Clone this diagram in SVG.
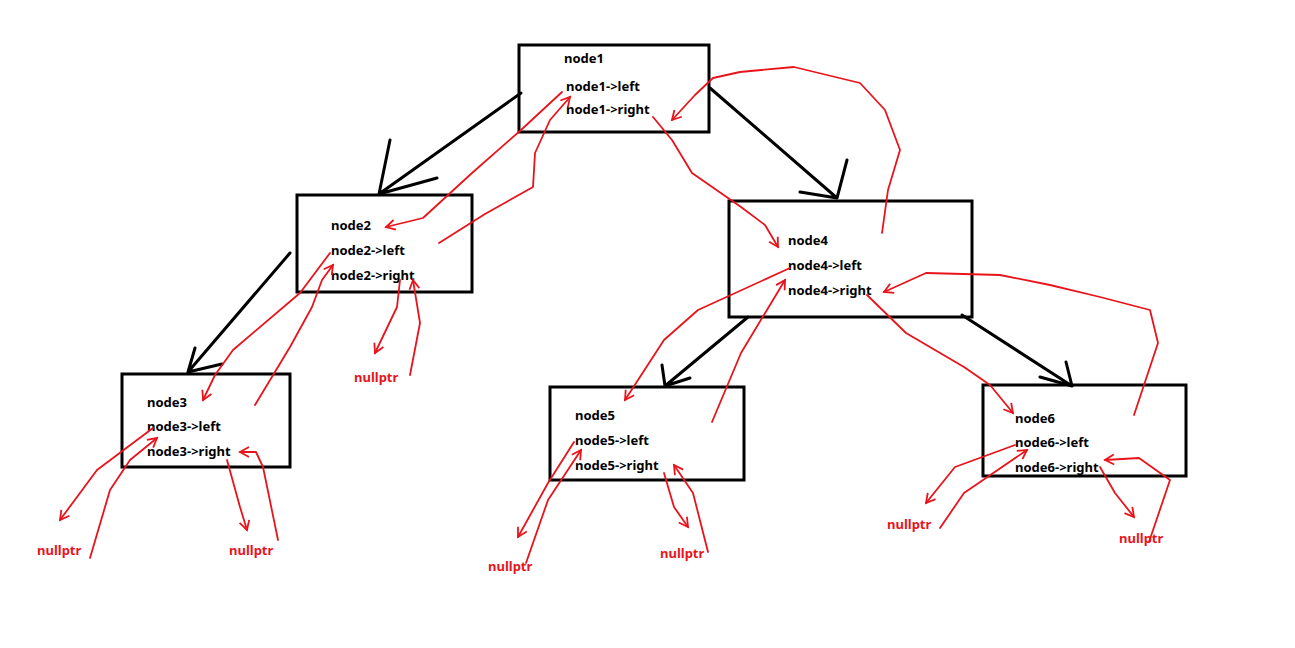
<svg xmlns="http://www.w3.org/2000/svg" width="1295" height="648" viewBox="0 0 1295 648">
<defs>
<style>
.box{fill:none;stroke:#000;stroke-width:3}
.t{font-family:"Noto Sans","Liberation Sans",sans-serif;font-weight:bold;font-size:13px;fill:#000}
.n{font-family:"Noto Sans","Liberation Sans",sans-serif;font-weight:bold;font-size:13px;fill:#e8141c}
.bk{fill:none;stroke:#000;stroke-width:3;stroke-linecap:round}
.rd{fill:none;stroke:#e8141c;stroke-width:1.8;stroke-linejoin:round;stroke-linecap:round;marker-end:url(#h)}
</style>
<marker id="h" viewBox="0 0 12 12" refX="10" refY="6" markerWidth="12" markerHeight="12" markerUnits="userSpaceOnUse" orient="auto">
<path d="M1,1 L10,6 L1,11" fill="none" stroke="#e8141c" stroke-width="1.8"/>
</marker>
</defs>
<rect width="1295" height="648" fill="#fff"/>
<g id="node1"><rect class="box" x="519" y="45" width="190" height="87"/><text class="t" x="564" y="63">node1</text><text class="t" x="566" y="91">node1-&gt;left</text><text class="t" x="566" y="114">node1-&gt;right</text></g>
<g id="node2"><rect class="box" x="297" y="195" width="175" height="97"/><text class="t" x="331" y="230">node2</text><text class="t" x="331" y="255">node2-&gt;left</text><text class="t" x="331" y="280">node2-&gt;right</text></g>
<g id="node3"><rect class="box" x="122" y="374" width="168" height="93"/><text class="t" x="147" y="407">node3</text><text class="t" x="147" y="431">node3-&gt;left</text><text class="t" x="147" y="456">node3-&gt;right</text></g>
<g id="node4"><rect class="box" x="729" y="201" width="243" height="116"/><text class="t" x="788" y="245">node4</text><text class="t" x="788" y="270">node4-&gt;left</text><text class="t" x="788" y="295">node4-&gt;right</text></g>
<g id="node5"><rect class="box" x="550" y="387" width="194" height="93"/><text class="t" x="575" y="420">node5</text><text class="t" x="575" y="445">node5-&gt;left</text><text class="t" x="575" y="470">node5-&gt;right</text></g>
<g id="node6"><rect class="box" x="983" y="385" width="203" height="91"/><text class="t" x="1015" y="423">node6</text><text class="t" x="1015" y="447">node6-&gt;left</text><text class="t" x="1015" y="472">node6-&gt;right</text></g>
<g id="nulls">
<text class="n" x="37" y="555">nullptr</text><text class="n" x="229" y="555">nullptr</text><text class="n" x="354" y="382">nullptr</text><text class="n" x="488" y="571">nullptr</text><text class="n" x="660" y="558">nullptr</text><text class="n" x="887" y="529">nullptr</text><text class="n" x="1119" y="543">nullptr</text>
</g>
<g id="connectors">
<path class="bk" d="M521,93 L379,194 M379,194 L390,140 M379,194 L437,178"/>
<path class="bk" d="M290,253 L188,372 M188,372 L195,348 M188,372 L222,364"/>
<path class="bk" d="M710,88 L837,198 M837,198 L847,160 M837,198 L800,192"/>
<path class="bk" d="M748,317 L665,386 M665,386 L662,365 M665,386 L690,378"/>
<path class="bk" d="M962,315 L1072,386 M1072,386 L1066,362 M1072,386 L1040,377"/>
<polyline class="rd" points="562,92 521,130 472,173 423,218 386,227"/>
<polyline class="rd" points="439,243 485,214 533,187 535,153 550,120 570,97"/>
<polyline class="rd" points="653,117 672,140 692,173 741,207 765,225 778,247"/>
<polyline class="rd" points="882,233 888,190 900,150 885,110 860,83 794,67 740,72 713,78 695,95 672,120"/>
<polyline class="rd" points="330,253 300,293 233,350 215,375 203,400"/>
<polyline class="rd" points="255,405 290,347 312,307 322,280 333,265"/>
<polyline class="rd" points="400,280 397,307 375,353"/>
<polyline class="rd" points="410,375 420,323 413,280"/>
<polyline class="rd" points="153,428 97,470 60,520"/>
<polyline class="rd" points="90,558 110,490 130,460 157,438"/>
<polyline class="rd" points="227,460 240,507 247,530"/>
<polyline class="rd" points="278,540 263,467 256,452 240,452"/>
<polyline class="rd" points="790,268 698,310 664,340 625,400"/>
<polyline class="rd" points="712,422 741,353 785,280"/>
<polyline class="rd" points="867,295 906,333 964,367 990,385 1013,413"/>
<polyline class="rd" points="1134,415 1158,343 1150,310 1100,297 1050,285 1000,275 926,273 884,292"/>
<polyline class="rd" points="574,442 548,483 518,537"/>
<polyline class="rd" points="526,563 548,500 581,450"/>
<polyline class="rd" points="664,473 674,507 688,527"/>
<polyline class="rd" points="708,552 693,493 674,465"/>
<polyline class="rd" points="1015,445 955,467 926,503"/>
<polyline class="rd" points="940,528 964,493 1027,450"/>
<polyline class="rd" points="1100,467 1115,493 1134,517"/>
<polyline class="rd" points="1149,542 1170,480 1139,458 1105,460"/>
</g>
</svg>
